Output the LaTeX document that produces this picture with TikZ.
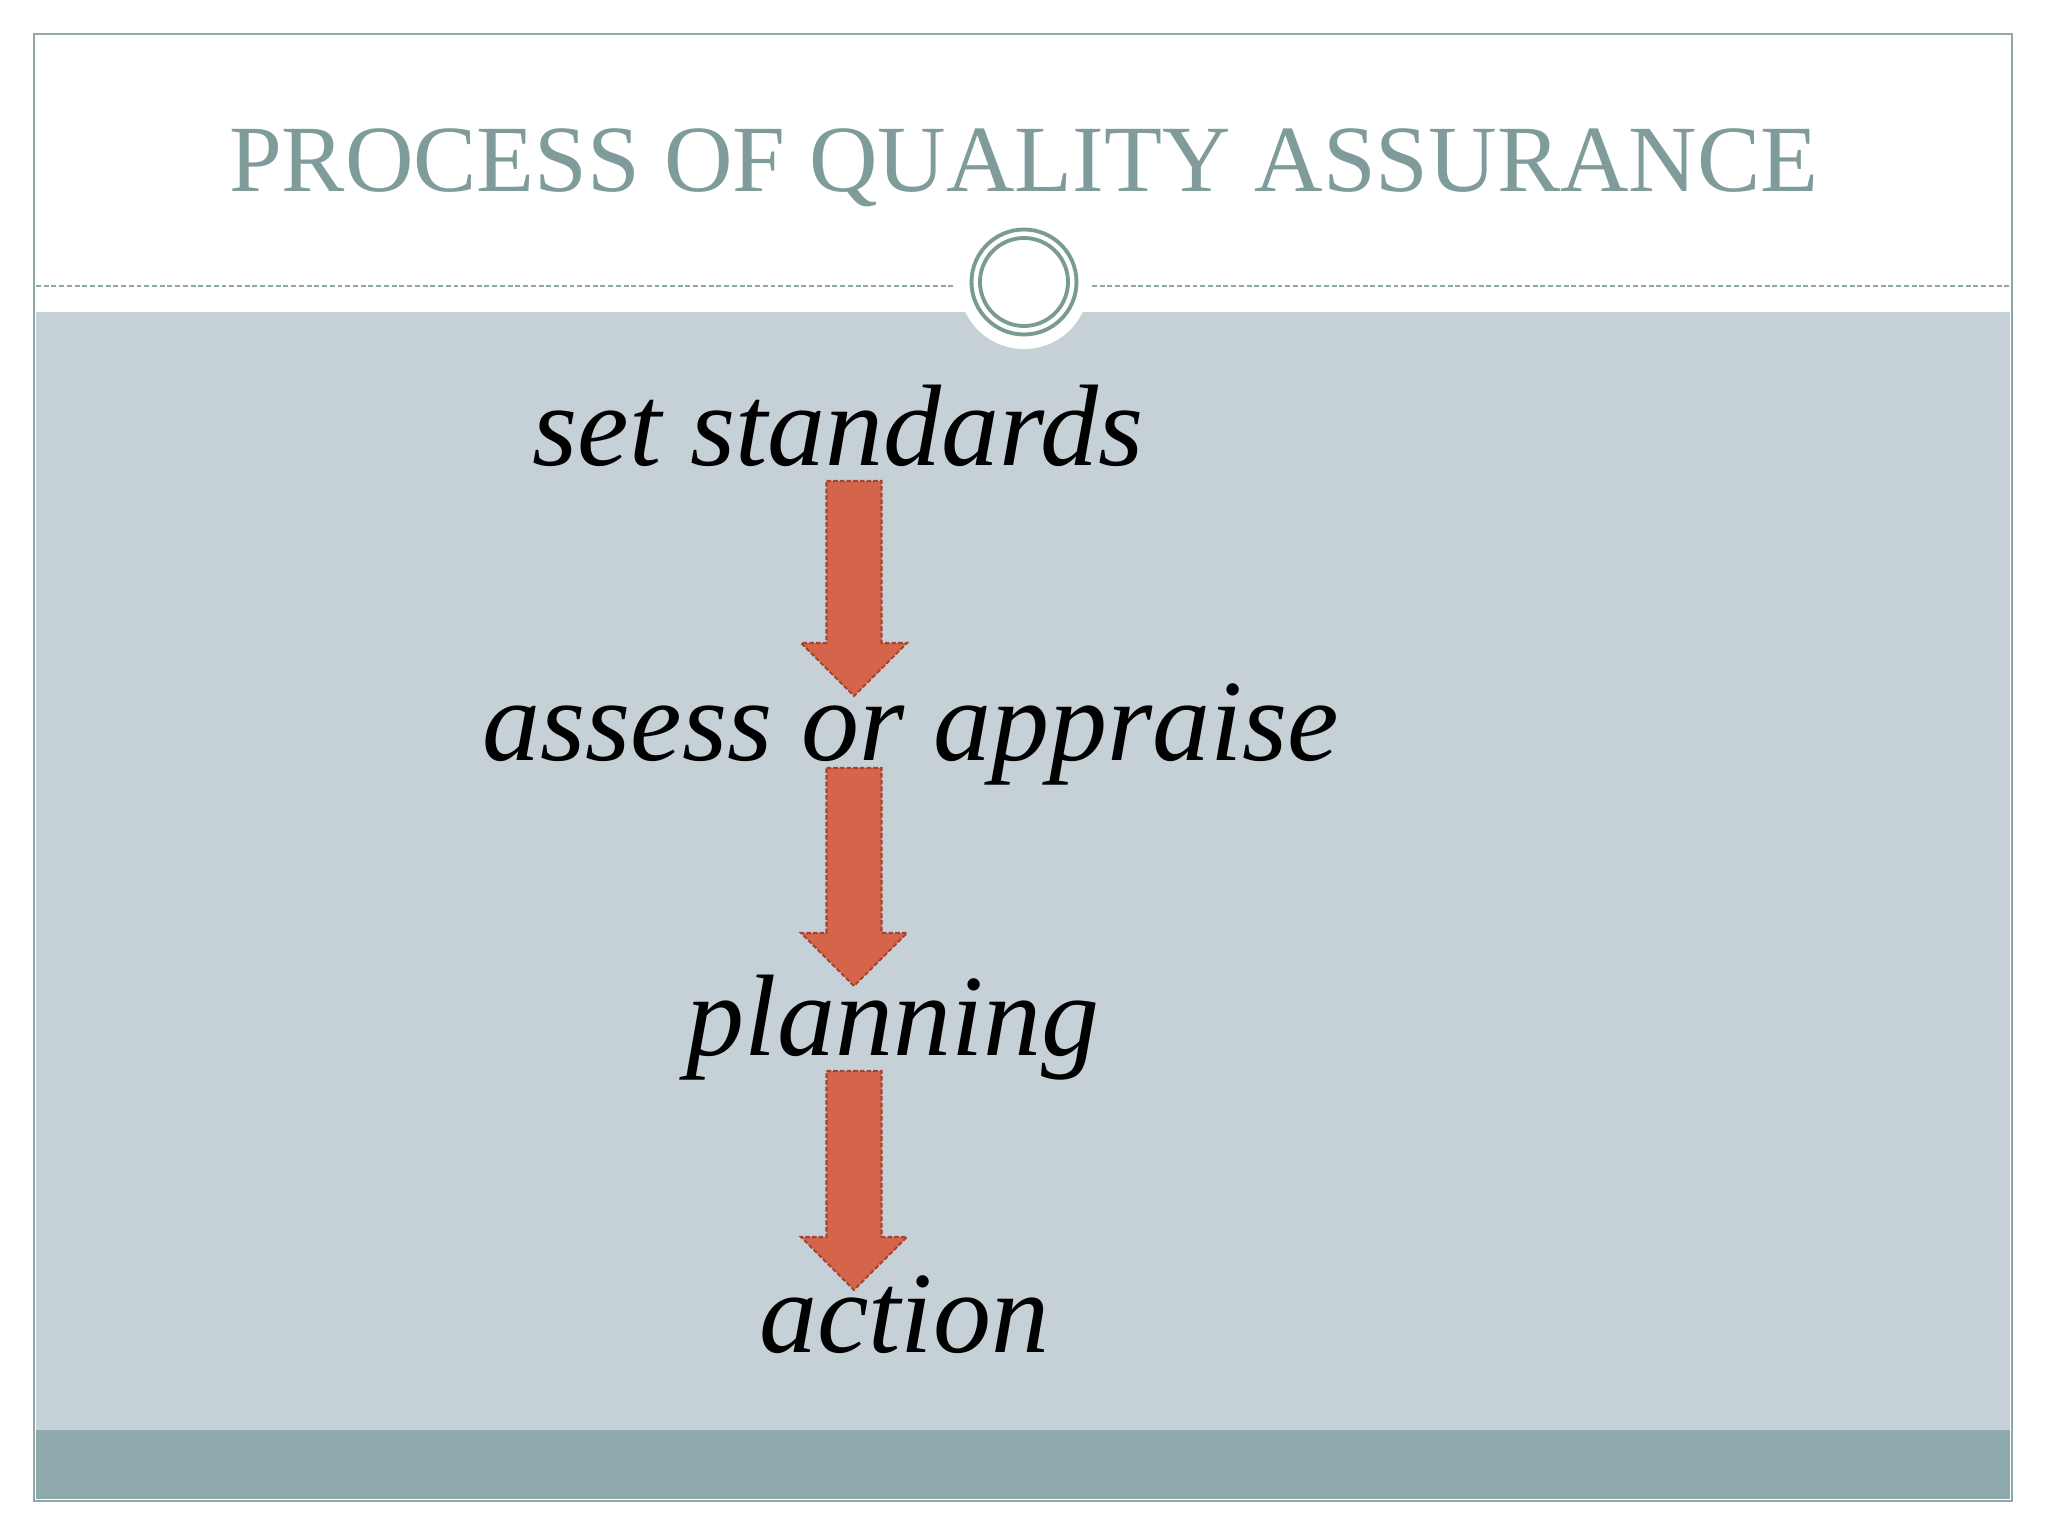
\documentclass[tikz,border=0pt]{standalone}
\usepackage{fontspec}
\setmainfont{Liberation Serif}
\usepackage{tikz}
\usetikzlibrary{positioning,calc}
\usepackage{xcolor}

\definecolor{framegray}{HTML}{8FA9A9}
\definecolor{titlegray}{HTML}{7F9C9B}
\definecolor{ringgray}{HTML}{7A9A94}
\definecolor{bodyfill}{HTML}{C5D1D6}
\definecolor{bandfill}{HTML}{8FAAAD}
\definecolor{arrowfill}{HTML}{D4654A}
\definecolor{arrowline}{HTML}{A8432F}

\newcommand{\blockarr}[2]{%
  \draw[blockarrow] ($(#1)+(-0.275,0)$) -- ($(#1)+(0.275,0)$)
    -- ($(#2)+(0.275,0.53)$) -- ($(#2)+(0.53,0.53)$) -- (#2)
    -- ($(#2)+(-0.53,0.53)$) -- ($(#2)+(-0.275,0.53)$) -- cycle;}

\begin{document}
\begin{tikzpicture}[
  steptext/.style={anchor=base,inner sep=0pt,font=\fontsize{33}{38}\selectfont\itshape},
  blockarrow/.style={fill=arrowfill,draw=arrowline,line width=0.6pt,dash pattern=on 1.3pt off 0.6pt}]
\useasboundingbox (0,0) rectangle (20.48,-15.36);
% slide frame and bands
\draw[framegray,line width=0.6pt,fill=white] (0.34,-0.34) rectangle (20.12,-15.01);
\fill[bodyfill] (0.36,-3.12) rectangle (20.10,-14.30);
\fill[bandfill] (0.36,-14.30) rectangle (20.10,-14.99);
\draw[framegray,line width=0.6pt] (0.34,-0.34) rectangle (20.12,-15.01);
% divider with ring
\draw[framegray,line width=0.3pt,dash pattern=on 1.4pt off 0.8pt] (0.36,-2.86) -- (9.55,-2.86);
\draw[framegray,line width=0.3pt,dash pattern=on 1.4pt off 0.8pt] (10.92,-2.86) -- (20.10,-2.86);
\fill[white] (10.24,-2.84) circle (0.65);
\draw[ringgray,line width=1.1pt] (10.24,-2.82) circle (0.525);
\draw[ringgray,line width=1.1pt] (10.24,-2.82) circle (0.44);
% title
\node[anchor=base,inner sep=0pt,titlegray,font=\fontsize{27}{32}\selectfont] (title) at (10.24,-1.92) {PROCESS OF QUALITY ASSURANCE};
% steps
\node[steptext] (standards) at (8.38,-4.66) {set standards};
\node[steptext] (assess) at (9.11,-7.61) {assess or appraise};
\node[steptext] (planning) at (8.93,-10.55) {planning};
\node[steptext] (action) at (9.04,-13.52) {action};
% arrows
\coordinate (a1s) at (8.54,-4.81);
\coordinate (a1e) at (8.54,-6.96);
\coordinate (a2s) at (8.54,-7.68);
\coordinate (a2e) at (8.54,-9.86);
\coordinate (a3s) at (8.54,-10.71);
\coordinate (a3e) at (8.54,-12.90);
\blockarr{a1s}{a1e}
\blockarr{a2s}{a2e}
\blockarr{a3s}{a3e}
\end{tikzpicture}
\end{document}
